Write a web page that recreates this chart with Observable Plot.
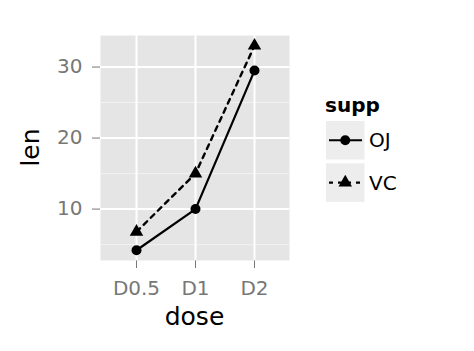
<!DOCTYPE html>
<html><head><meta charset="utf-8">
<script src="https://cdn.jsdelivr.net/npm/d3@7"></script>
<script src="https://cdn.jsdelivr.net/npm/@observablehq/plot@0.6"></script>
<style>body{margin:0;background:#fff}</style>
</head><body><div id="chart"></div>
<script>
const supp = ["VC", "VC", "VC", "OJ", "OJ", "OJ"];
const dose = ["D0.5", "D1", "D2", "D0.5", "D1", "D2"];
const len = [6.8, 15, 33, 4.2, 10, 29.5];
const doseLevels = ["D0.5", "D1", "D2"];
const suppLevels = ["OJ", "VC"];
const yTicks = [10, 20, 30];
const yMinor = [5, 15, 25];

const data = len.map((v, i) => ({supp: supp[i], dose: dose[i], len: v}));
const lo = d3.min(len), hi = d3.max(len), ex = (hi - lo) * 0.05;

const W = 474, H = 351, ML = 100, MR = 185, MT = 35, MB = 91;
const chart = Plot.plot({
  width: W, height: H,
  marginLeft: ML, marginRight: MR, marginTop: MT, marginBottom: MB,
  style: {fontFamily: "DejaVu Sans", fontSize: "20px", color: "#777777", background: "#fff", overflow: "visible"},
  x: {type: "point", domain: doseLevels, padding: 0.6, label: null, tickSize: 8, tickPadding: 12},
  y: {domain: [lo - ex, hi + ex], ticks: yTicks, label: null, tickSize: 8, tickPadding: 10},
  symbol: {domain: suppLevels, range: ["circle", "triangle"]},
  marks: [
    Plot.frame({fill: "#E5E5E5", stroke: "none"}),
    Plot.ruleY(yMinor, {stroke: "#F2F2F2", strokeWidth: 1}),
    Plot.ruleY(yTicks, {stroke: "#ffffff", strokeWidth: 2}),
    Plot.ruleX(doseLevels, {stroke: "#ffffff", strokeWidth: 2}),
    Plot.line(data.filter(d => d.supp === "OJ"), {x: "dose", y: "len", stroke: "black", strokeWidth: 2.2}),
    Plot.line(data.filter(d => d.supp === "VC"), {x: "dose", y: "len", stroke: "black", strokeWidth: 2.4, strokeDasharray: "5,5"}),
    Plot.dot(data, {x: "dose", y: "len", symbol: "supp", fill: "black", stroke: "none", r: 5})
  ]
});
document.getElementById("chart").appendChild(chart);

const svg = d3.select(chart);
const cx = (ML + W - MR) / 2, cy = (MT + H - MB) / 2;
svg.append("text").attr("x", cx).attr("y", 325).attr("text-anchor", "middle")
  .attr("font-size", 25).attr("fill", "black").text("dose");
svg.append("text").attr("transform", `translate(38.5,${cy}) rotate(-90)`).attr("text-anchor", "middle")
  .attr("font-size", 25).attr("fill", "black").text("len");

// legend
const lg = svg.append("g").attr("text-anchor", "start");
lg.append("text").attr("x", 325).attr("y", 112).attr("font-size", 20).attr("font-weight", "bold")
  .attr("fill", "black").text("supp");
const keySize = 38.5;
suppLevels.forEach((s, i) => {
  const y0 = 121 + i * 42.3;
  const g = lg.append("g");
  g.append("rect").attr("x", 326).attr("y", y0).attr("width", keySize).attr("height", keySize).attr("fill", "#EDEDED");
  g.append("line").attr("x1", 329).attr("x2", 362).attr("y1", y0 + keySize / 2).attr("y2", y0 + keySize / 2)
    .attr("stroke", "black").attr("stroke-width", 2.2).attr("stroke-dasharray", s === "VC" ? "4,5" : null);
  const sym = s === "OJ" ? d3.symbolCircle : d3.symbolTriangle;
  g.append("path").attr("d", d3.symbol(sym, Math.PI * 25)()).attr("transform", `translate(${326 + keySize / 2},${y0 + keySize / 2})`)
    .attr("fill", "black");
  g.append("text").attr("x", 369).attr("y", y0 + keySize / 2).attr("dy", "0.36em").attr("font-size", 20)
    .attr("fill", "black").text(s);
});
</script>
</body></html>
